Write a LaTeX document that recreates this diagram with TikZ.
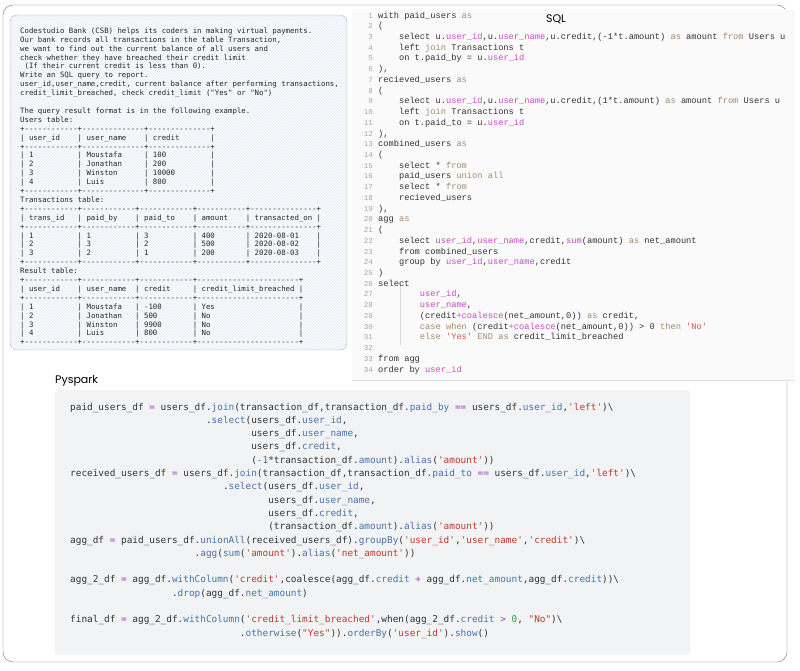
\documentclass[tikz,border=0pt]{standalone}
\usepackage{fontspec}
\setmonofont{Liberation Mono}
\newfontfamily\probfont{DejaVu Sans Mono}
\newfontfamily\pyfont{DejaVu Sans Mono}
\newfontfamily\handfont{Poppins}
\usetikzlibrary{patterns}
\definecolor{probfill}{HTML}{EEF1F9}
\definecolor{probline}{HTML}{AEB6C8}
\definecolor{sqlkw}{HTML}{A48A6A}
\definecolor{sqlid}{HTML}{C84AC8}
\definecolor{sqlstr}{HTML}{D9534F}
\definecolor{pyblue}{HTML}{4A72A8}
\definecolor{pystr}{HTML}{C0392B}
\definecolor{pyop}{HTML}{A040C0}
\definecolor{pynum}{HTML}{3A9A4A}
\definecolor{pyfill}{HTML}{F1F3F4}
% monospace helpers
\newcommand\cw{\fontcharwd\font`M}
\newcommand\cl[2]{\makebox[#1\cw][l]{#2}}
\newcommand\dsh[1]{\foreach\i in {1,...,#1}{-}}
\newcommand\ind[1]{\hspace*{#1\cw}}
\newcommand\kw[1]{\textcolor{sqlkw}{#1}}
\newcommand\sid[1]{\textcolor{sqlid}{#1}}
\newcommand\sst[1]{\textcolor{sqlstr}{#1}}
\newcommand\pb[1]{\textcolor{pyblue}{#1}}
\newcommand\ps[1]{\textcolor{pystr}{#1}}
\newcommand\po[1]{\textcolor{pyop}{#1}}
\newcommand\pn[1]{\textcolor{pynum}{#1}}
\tikzset{
  sqlnum/.style={anchor=base east,inner sep=0pt,text=black!35,font=\ttfamily\fontsize{7.5}{8}\selectfont},
  sqlcode/.style={anchor=base west,inner sep=0pt,text=black!80,font=\ttfamily\fontsize{8.7}{9}\selectfont},
  pycode/.style={anchor=base west,inner sep=0pt,text=black!80,font=\pyfont\fontsize{9.4}{10}\selectfont},
  title/.style={inner sep=0pt,font=\handfont\fontsize{11}{12}\selectfont}
}
\newcommand\sqlline[2]{%
  \node[sqlnum] (num#1) at (373,{18+10.73*(#1-1)}) {#1};
  \node[sqlcode] (sql#1) at (378,{18+10.73*(#1-1)}) {#2};}
\newcommand\pyline[2]{%
  \node[pycode] (py#1) at (70,{410+13.3*(#1-1)}) {#2};}
\begin{document}
\begin{tikzpicture}[x=1pt,y=-1pt]
\useasboundingbox (0,0) rectangle (800,670);
\fill[white] (0,0) rectangle (800,670);
% outer frame
\draw[black!55,rounded corners=10pt] (3,5) rectangle (787,662);
% problem box
\draw[probline,fill=probfill,rounded corners=7pt] (10,15) rectangle (347,350);
\fill[pattern=north east lines,pattern color=white] (12,17) rectangle (345,348);
\node[anchor=north west,inner sep=0pt,align=left,text=black!85,
  font=\probfont\fontsize{7.35}{8.9}\selectfont] (prob) at (20,27.5) {%
Codestudio Bank (CSB) helps its coders in making virtual payments.\\
Our bank records all transactions in the table Transaction,\\
we want to find out the current balance of all users and\\
check whether they have breached their credit limit\\
\ind{1}(If their current credit is less than 0).\\
Write an SQL query to report.\\
user\_id,user\_name,credit, current balance after performing transactions,\\
credit\_limit\_breached, check credit\_limit ("Yes" or "No")\\
\mbox{}\\
The query result format is in the following example.\\
Users table:\\
+\dsh{12}+\dsh{14}+\dsh{14}+\\
\cl{13}{| user\_id}\cl{15}{| user\_name}\cl{15}{| credit}|\\
+\dsh{12}+\dsh{14}+\dsh{14}+\\
\cl{13}{| 1}\cl{15}{| Moustafa}\cl{15}{| 100}|\\
\cl{13}{| 2}\cl{15}{| Jonathan}\cl{15}{| 200}|\\
\cl{13}{| 3}\cl{15}{| Winston}\cl{15}{| 10000}|\\
\cl{13}{| 4}\cl{15}{| Luis}\cl{15}{| 800}|\\
+\dsh{12}+\dsh{14}+\dsh{14}+\\
Transactions table:\\
+\dsh{12}+\dsh{12}+\dsh{12}+\dsh{11}+\dsh{15}+\\
\cl{13}{| trans\_id}\cl{13}{| paid\_by}\cl{13}{| paid\_to}\cl{12}{| amount}\cl{16}{| transacted\_on}|\\
+\dsh{12}+\dsh{12}+\dsh{12}+\dsh{11}+\dsh{15}+\\
\cl{13}{| 1}\cl{13}{| 1}\cl{13}{| 3}\cl{12}{| 400}\cl{16}{| 2020-08-01}|\\
\cl{13}{| 2}\cl{13}{| 3}\cl{13}{| 2}\cl{12}{| 500}\cl{16}{| 2020-08-02}|\\
\cl{13}{| 3}\cl{13}{| 2}\cl{13}{| 1}\cl{12}{| 200}\cl{16}{| 2020-08-03}|\\
+\dsh{12}+\dsh{12}+\dsh{12}+\dsh{11}+\dsh{15}+\\
Result table:\\
+\dsh{12}+\dsh{12}+\dsh{12}+\dsh{23}+\\
\cl{13}{| user\_id}\cl{13}{| user\_name}\cl{13}{| credit}\cl{24}{| credit\_limit\_breached}|\\
+\dsh{12}+\dsh{12}+\dsh{12}+\dsh{23}+\\
\cl{13}{| 1}\cl{13}{| Moustafa}\cl{13}{| -100}\cl{24}{| Yes}|\\
\cl{13}{| 2}\cl{13}{| Jonathan}\cl{13}{| 500}\cl{24}{| No}|\\
\cl{13}{| 3}\cl{13}{| Winston}\cl{13}{| 9900}\cl{24}{| No}|\\
\cl{13}{| 4}\cl{13}{| Luis}\cl{13}{| 800}\cl{24}{| No}|\\
+\dsh{12}+\dsh{12}+\dsh{12}+\dsh{23}+};
% SQL panel
\fill[black!2] (352,9) rectangle (795,380);
\draw[black!12] (352,380) -- (795,380);
\node[title] (sqltitle) at (556,19) {SQL};
\draw[black!15] (400,283) -- (400,345);
\sqlline{1}{with paid\_users \kw{as}}
\sqlline{2}{(}
\sqlline{3}{\ind{4}select u.\sid{user\_id},u.\sid{user\_name},u.credit,(-1*t.amount) \kw{as} amount \kw{from} Users u}
\sqlline{4}{\ind{4}left \kw{join} Transactions t}
\sqlline{5}{\ind{4}on t.paid\_by = u.\sid{user\_id}}
\sqlline{6}{),}
\sqlline{7}{recieved\_users \kw{as}}
\sqlline{8}{(}
\sqlline{9}{\ind{4}select u.\sid{user\_id},u.\sid{user\_name},u.credit,(1*t.amount) \kw{as} amount \kw{from} Users u}
\sqlline{10}{\ind{4}left \kw{join} Transactions t}
\sqlline{11}{\ind{4}on t.paid\_to = u.\sid{user\_id}}
\sqlline{12}{),}
\sqlline{13}{combined\_users \kw{as}}
\sqlline{14}{(}
\sqlline{15}{\ind{4}select * \kw{from}}
\sqlline{16}{\ind{4}paid\_users \kw{union all}}
\sqlline{17}{\ind{4}select * \kw{from}}
\sqlline{18}{\ind{4}recieved\_users}
\sqlline{19}{),}
\sqlline{20}{agg \kw{as}}
\sqlline{21}{(}
\sqlline{22}{\ind{4}select \sid{user\_id},\sid{user\_name},credit,\sid{sum}(amount) \kw{as} net\_amount}
\sqlline{23}{\ind{4}from combined\_users}
\sqlline{24}{\ind{4}group by \sid{user\_id},\sid{user\_name},credit}
\sqlline{25}{)}
\sqlline{26}{select}
\sqlline{27}{\ind{8}\sid{user\_id},}
\sqlline{28}{\ind{8}\sid{user\_name},}
\sqlline{29}{\ind{8}(credit\sid{+coalesce}(net\_amount,0)) \kw{as} credit,}
\sqlline{30}{\ind{8}\kw{case when} (credit\sid{+coalesce}(net\_amount,0)) > 0 \kw{then} \sst{'No'}}
\sqlline{31}{\ind{8}\kw{else} \sst{'Yes'} \kw{END as} credit\_limit\_breached}
\sqlline{32}{}
\sqlline{33}{from agg}
\sqlline{34}{order by \sid{user\_id}}
% Pyspark block
\node[title,anchor=base west] (pytitle) at (55,383) {Pyspark};
\fill[pyfill,rounded corners=3pt] (55,390) rectangle (690,655);
\pyline{1}{paid\_users\_df \po{=} users\_df.\pb{join}(transaction\_df,transaction\_df.\pb{paid\_by} \po{==} users\_df.\pb{user\_id},\ps{'left'})\textbackslash}
\pyline{2}{\ind{24}.\pb{select}(users\_df.\pb{user\_id},}
\pyline{3}{\ind{32}users\_df.\pb{user\_name},}
\pyline{4}{\ind{32}users\_df.\pb{credit},}
\pyline{5}{\ind{32}(\pb{-1}*transaction\_df.\pb{amount}).\pb{alias}(\ps{'amount'}))}
\pyline{6}{received\_users\_df \po{=} users\_df.\pb{join}(transaction\_df,transaction\_df.\pb{paid\_to} \po{==} users\_df.\pb{user\_id},\ps{'left'})\textbackslash}
\pyline{7}{\ind{27}.\pb{select}(users\_df.\pb{user\_id},}
\pyline{8}{\ind{35}users\_df.\pb{user\_name},}
\pyline{9}{\ind{35}users\_df.\pb{credit},}
\pyline{10}{\ind{35}(transaction\_df.\pb{amount}).\pb{alias}(\ps{'amount'}))}
\pyline{11}{agg\_df \po{=} paid\_users\_df.\pb{unionAll}(received\_users\_df).\pb{groupBy}(\ps{'user\_id'},\ps{'user\_name'},\ps{'credit'})\textbackslash}
\pyline{12}{\ind{22}.\pb{agg}(\pb{sum}(\ps{'amount'}).\pb{alias}(\ps{'net\_amount'}))}
\pyline{14}{agg\_2\_df \po{=} agg\_df.\pb{withColumn}(\ps{'credit'},coalesce(agg\_df.\pb{credit} \po{+} agg\_df.\pb{net\_amount},agg\_df.\pb{credit}))\textbackslash}
\pyline{15}{\ind{18}.\pb{drop}(agg\_df.\pb{net\_amount})}
\pyline{17}{final\_df \po{=} agg\_2\_df.\pb{withColumn}(\ps{'credit\_limit\_breached'},when(agg\_2\_df.\pb{credit} \po{>} \pn{0}, \ps{"No"})\textbackslash}
\pyline{18}{\ind{30}.\pb{otherwise}(\ps{"Yes"})).\pb{orderBy}(\ps{'user\_id'}).\pb{show}()}
\end{tikzpicture}
\end{document}
